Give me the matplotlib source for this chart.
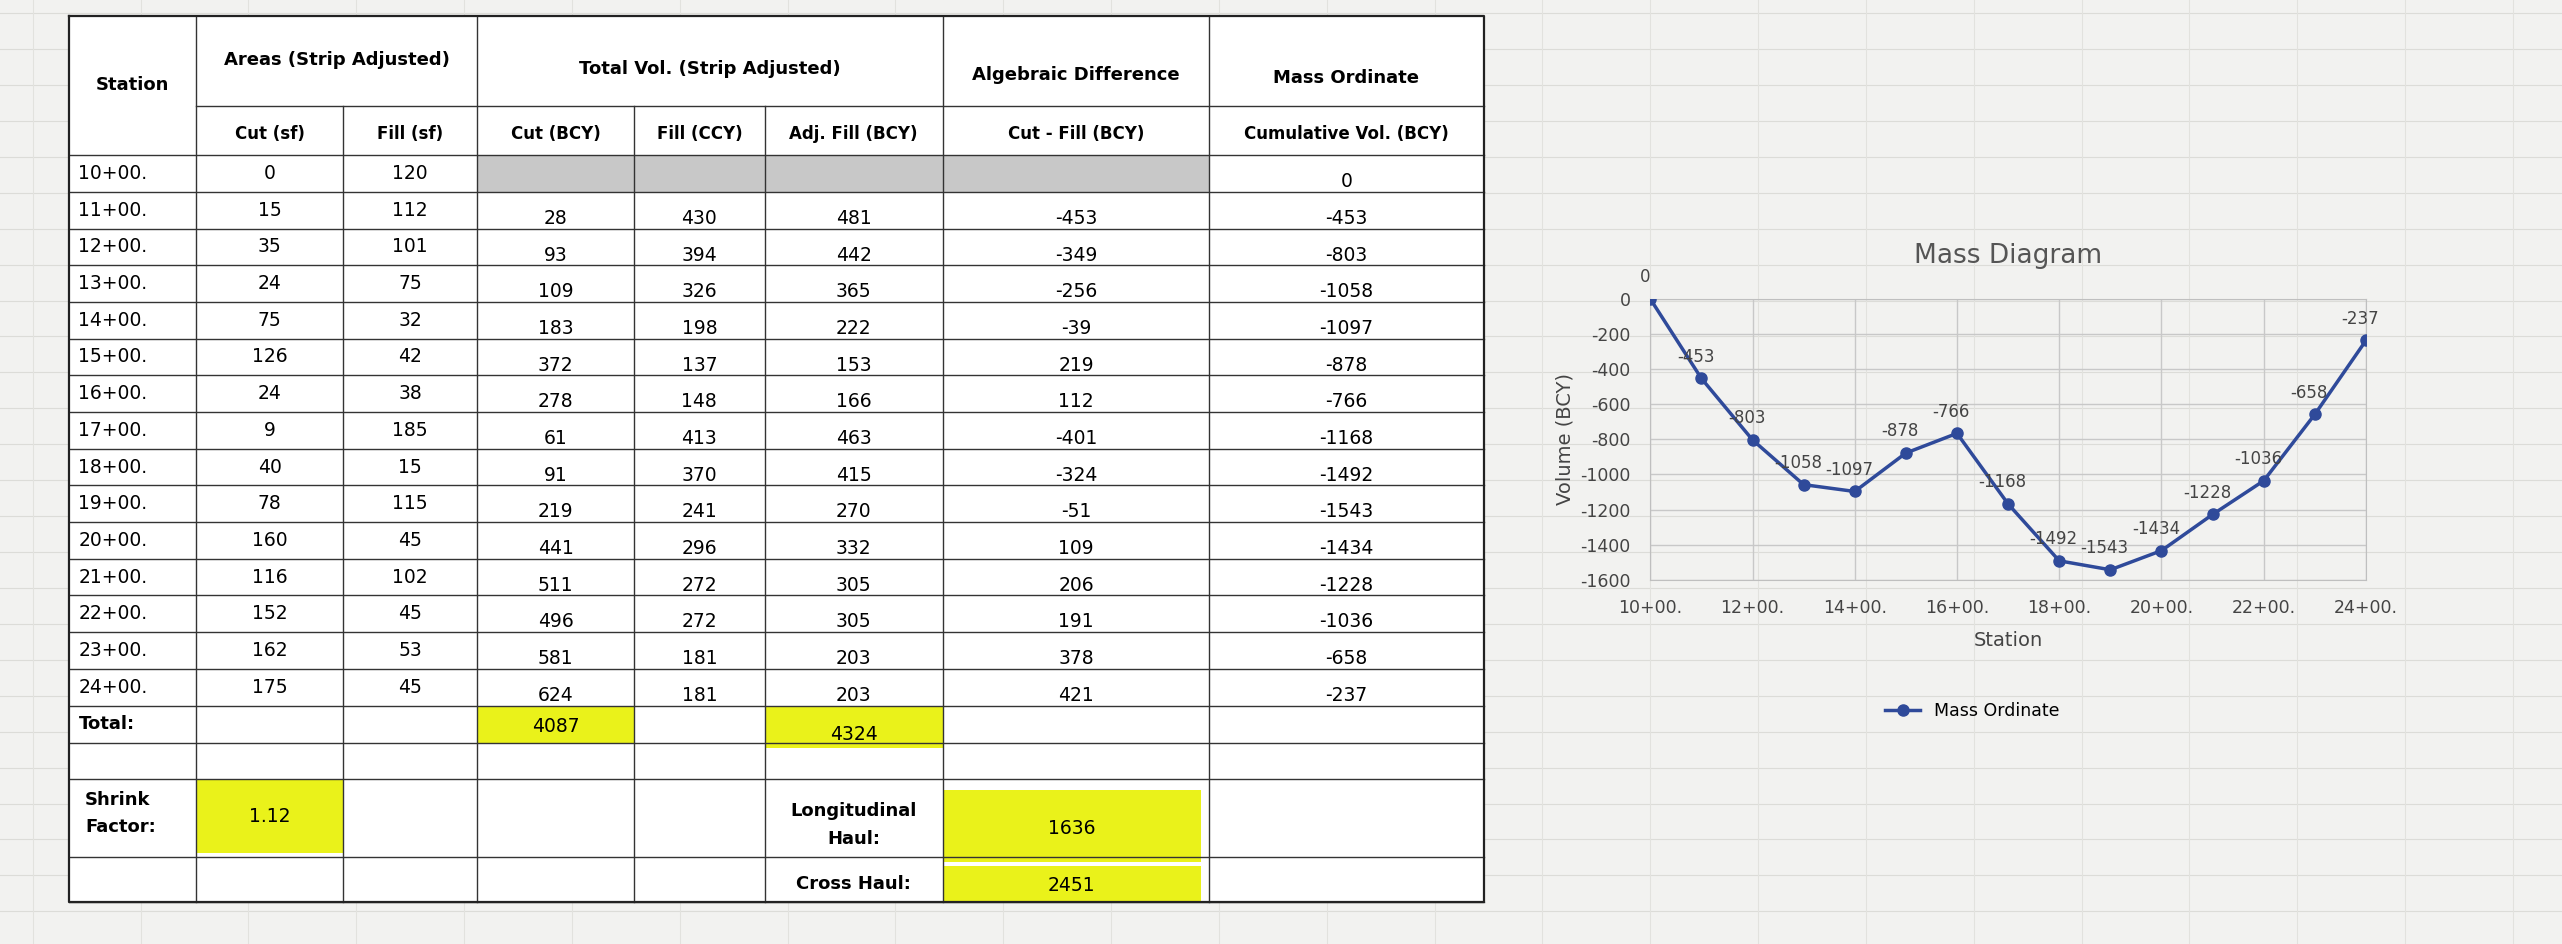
import matplotlib
matplotlib.use("Agg")
import matplotlib.pyplot as plt
from matplotlib.patches import Rectangle

plt.rcParams["axes.unicode_minus"] = False

stations = ["10+00.", "11+00.", "12+00.", "13+00.", "14+00.", "15+00.", "16+00.", "17+00.",
            "18+00.", "19+00.", "20+00.", "21+00.", "22+00.", "23+00.", "24+00."]
cut_sf = [0, 15, 35, 24, 75, 126, 24, 9, 40, 78, 160, 116, 152, 162, 175]
fill_sf = [120, 112, 101, 75, 32, 42, 38, 185, 15, 115, 45, 102, 45, 53, 45]
cut_bcy = [None, 28, 93, 109, 183, 372, 278, 61, 91, 219, 441, 511, 496, 581, 624]
fill_ccy = [None, 430, 394, 326, 198, 137, 148, 413, 370, 241, 296, 272, 272, 181, 181]
adj_fill = [None, 481, 442, 365, 222, 153, 166, 463, 415, 270, 332, 305, 305, 203, 203]
alg_diff = [None, -453, -349, -256, -39, 219, 112, -401, -324, -51, 109, 206, 191, 378, 421]
mass_ord = [0, -453, -803, -1058, -1097, -878, -766, -1168, -1492, -1543, -1434, -1228, -1036, -658, -237]
total_cut, total_adj_fill = 4087, 4324
shrink, long_haul, cross_haul = 1.12, 1636, 2451

W, H = 1568, 578  # layout units (reference scaled)
fig = plt.figure(figsize=(25.62, 9.44), dpi=100)
fig.patch.set_facecolor("#f2f2f0")
bg = fig.add_axes([0, 0, 1, 1])
bg.set_xlim(0, W)
bg.set_ylim(H, 0)
bg.axis("off")

# faint spreadsheet gridlines
for y in range(8, H, 22):
    bg.plot([0, W], [y, y], color="#dcdcd8", lw=0.8, zorder=0)
for x in range(20, W, 66):
    bg.plot([x, x], [0, H], color="#e2e2de", lw=0.8, zorder=0)

cols = [42, 120, 210, 292, 388, 468, 577, 740, 908]
top, mid, hdr = 10, 65, 95
rh = (432 - hdr) / 15
rows = [hdr + i * rh for i in range(16)] + [455, 477, 525, 552]
bot = rows[-1]
YEL, GRY = "#eaf21a", "#c8c8c8"
fs = 13.5

bg.add_patch(Rectangle((cols[0], top), cols[-1] - cols[0], bot - top, fc="white", ec="none", zorder=1))
bg.add_patch(Rectangle((cols[3], rows[0]), cols[7] - cols[3], rh, fc=GRY, ec="none", zorder=1))
for x0, x1, y0, y1 in [(cols[3], cols[4], 432, 455), (cols[5], cols[6], 432, 458),
                       (cols[1], cols[2], 477, 522), (cols[6], 735, 484, 528), (cols[6], 735, 530, 553)]:
    bg.add_patch(Rectangle((x0, y0), x1 - x0, y1 - y0, fc=YEL, ec="none", zorder=1))

lk = dict(color="#333333", lw=1.0, zorder=2)
bg.plot([cols[0], cols[-1], cols[-1], cols[0], cols[0]], [top, top, bot, bot, top], color="#222", lw=1.6, zorder=3)
bg.plot([cols[1], cols[-1]], [mid, mid], **lk)
for r in rows:
    bg.plot([cols[0], cols[-1]], [r, r], **lk)
for i, x in enumerate(cols[1:-1], start=1):
    y0 = top if i in (1, 3, 6, 7) else mid
    bg.plot([x, x], [y0, bot], **lk)

tk = dict(ha="center", va="center", fontsize=fs, family="DejaVu Sans", zorder=4)
hk = dict(tk, fontweight="bold", fontsize=fs - 0.5)
bg.text(81, 52, "Station", **hk)
bg.text((cols[1] + cols[3]) / 2, 37, "Areas (Strip Adjusted)", **hk)
bg.text((cols[3] + cols[6]) / 2, 42, "Total Vol. (Strip Adjusted)", **hk)
bg.text((cols[6] + cols[7]) / 2, 46, "Algebraic Difference", **hk)
bg.text((cols[7] + cols[8]) / 2, 48, "Mass Ordinate", **hk)
for i, s in enumerate(["Cut (sf)", "Fill (sf)", "Cut (BCY)", "Fill (CCY)", "Adj. Fill (BCY)",
                       "Cut - Fill (BCY)", "Cumulative Vol. (BCY)"]):
    bg.text((cols[i + 1] + cols[i + 2]) / 2, 82, s, **dict(hk, fontsize=fs - 1.5))

for r in range(15):
    yc = rows[r] + rh / 2
    bg.text(cols[0] + 6, yc, stations[r], **dict(tk, ha="left"))
    vals = [cut_sf[r], fill_sf[r], cut_bcy[r], fill_ccy[r], adj_fill[r], alg_diff[r], mass_ord[r]]
    for c, v in enumerate(vals):
        if v is not None:
            bg.text((cols[c + 1] + cols[c + 2]) / 2, yc + (5 if c >= 2 else 0), str(v), **tk)

bg.text(cols[0] + 6, 443, "Total:", **dict(hk, ha="left"))
bg.text((cols[3] + cols[4]) / 2, 445, str(total_cut), **tk)
bg.text((cols[5] + cols[6]) / 2, 450, str(total_adj_fill), **tk)
bg.text(cols[0] + 10, 498, "Shrink\nFactor:", **dict(hk, ha="left", linespacing=1.6))
bg.text((cols[1] + cols[2]) / 2, 500, f"{shrink:.2f}", **tk)
bg.text((cols[5] + cols[6]) / 2, 505, "Longitudinal\nHaul:", **dict(hk, linespacing=1.7))
bg.text((cols[5] + cols[6]) / 2, 541, "Cross Haul:", **hk)
bg.text(656, 507, str(long_haul), **tk)
bg.text(656, 542, str(cross_haul), **tk)

# mass diagram
ax = fig.add_axes([1010 / W, 1 - 355 / H, (1448 - 1010) / W, (355 - 183) / H])
ax.set_facecolor("none")
x = list(range(len(stations)))
ax.plot(x, mass_ord, color="#2f4a9a", lw=2.5, marker="o", ms=8, label="Mass Ordinate", zorder=3)
for xi, v in zip(x, mass_ord):
    ax.annotate(str(v), (xi, v), xytext=(-4, 12), textcoords="offset points",
                ha="center", fontsize=12, color="#444")
ax.set_xlim(0, 14)
ax.set_ylim(-1600, 0)
ax.set_yticks(range(-1600, 1, 200))
ax.set_xticks(x[::2])
ax.set_xticklabels(stations[::2])
ax.grid(True, color="#c8c8c8", lw=1)
ax.tick_params(length=0, labelsize=12.5, colors="#444", pad=14)
for sp in ax.spines.values():
    sp.set_color("#bfbfbf")
ax.set_xlabel("Station", fontsize=14, color="#444", labelpad=10)
ax.set_ylabel("Volume (BCY)", fontsize=14, color="#444")
ax.set_title("Mass Diagram", fontsize=19, color="#555", pad=26)
ax.legend(loc="upper center", bbox_to_anchor=(0.45, -0.38), frameon=False, fontsize=12.5)

fig.savefig("out.png", dpi=100, facecolor=fig.get_facecolor())
